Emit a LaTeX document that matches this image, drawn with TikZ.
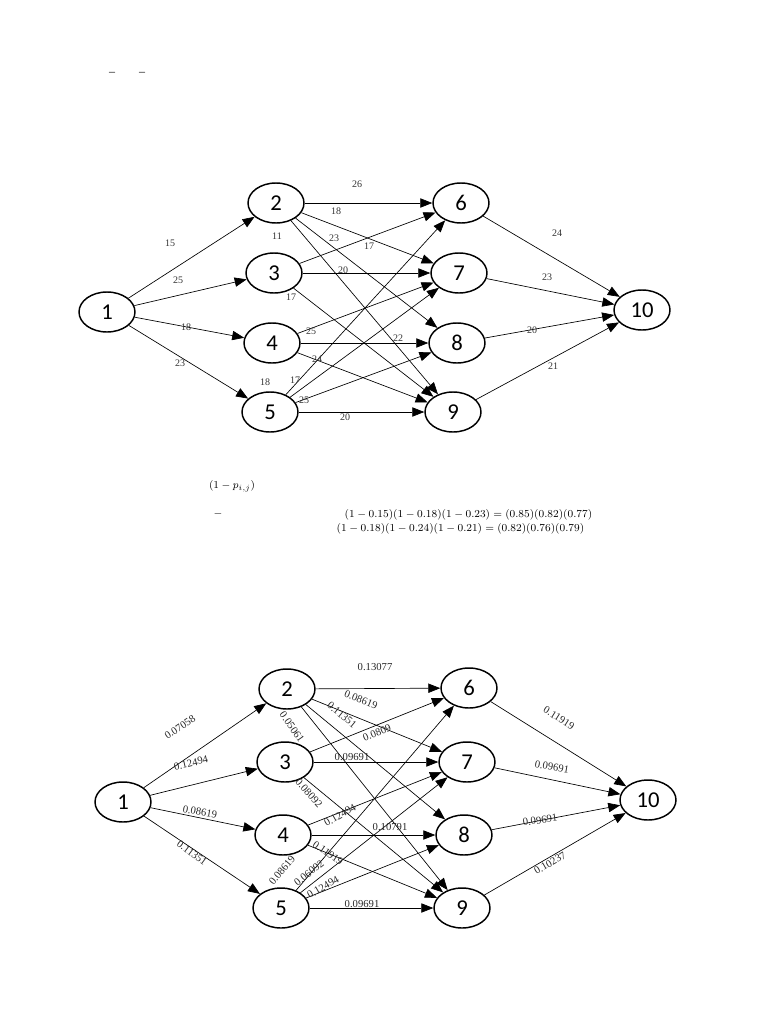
\documentclass[tikz,border=0pt]{standalone}
\usepackage{fontspec}
\setmainfont{Liberation Serif}
\newfontfamily\nodefont{Carlito}
\usetikzlibrary{arrows.meta,shapes.geometric}
\begin{document}
\begin{tikzpicture}[x=0.75pt,y=-0.75pt,
  v/.style={ellipse,draw,line width=1.1pt,minimum width=42pt,minimum height=30pt,inner sep=0pt,font=\nodefont\fontsize{17}{17}\selectfont},
  e/.style={draw,line width=0.5pt,-{Triangle[length=9pt,width=7pt]}},
  lt/.style={font=\fontsize{7.5}{8}\selectfont,inner sep=0pt,text=black!80},
  lb/.style={font=\fontsize{8}{9}\selectfont,inner sep=0pt,text=black!85}]
\useasboundingbox (0,0) rectangle (768,1024);
% top marks
\node[font=\small] (m1) at (112,74) {--};
\node[font=\small] (m2) at (142,74) {--};
% top graph
\node[v] (a1) at (107,312) {1};
\node[v] (a2) at (276,203) {2};
\node[v] (a3) at (274,273) {3};
\node[v] (a4) at (272,343) {4};
\node[v] (a5) at (270,412) {5};
\node[v] (a6) at (461,203) {6};
\node[v] (a7) at (459,273) {7};
\node[v] (a8) at (457,343) {8};
\node[v] (a9) at (453,412) {9};
\node[v] (a10) at (642,310) {10};
\foreach \s/\t in {1/2,1/3,1/4,1/5,2/6,2/7,2/8,2/9,3/6,3/7,3/9,4/7,4/8,4/9,5/6,5/7,5/8,5/9,6/10,7/10,8/10,9/10}
  \draw[e] (a\s) -- (a\t);
\foreach \x/\y/\l in {170/243/15,178/280/25,186/327/18,180/363/23,357/184/26,336/211/18,277/236/11,334/238/23,369/246/17,343/270/20,291/297/17,311/331/25,398/338/22,317/359/24,265/382/18,295/380/17,304/400/25,345/417/20,557/233/24,547/277/23,532/330/20,553/366/21}
  \node[lt] at (\x,\y) {\l};
% formulas
\node[font=\fontsize{8}{9}\selectfont] (f0) at (232,486) {$(1-p_{i,j})$};
\node[font=\fontsize{8}{9}\selectfont] (f1) at (218,514) {$-$};
\node[font=\fontsize{8.5}{9}\selectfont,anchor=west] (f2) at (340,515) {$(1-0.15)(1-0.18)(1-0.23)=(0.85)(0.82)(0.77)$};
\node[font=\fontsize{8.5}{9}\selectfont,anchor=west] (f3) at (332,529) {$(1-0.18)(1-0.24)(1-0.21)=(0.82)(0.76)(0.79)$};
% bottom graph
\node[v] (b1) at (123,802) {1};
\node[v] (b2) at (287,689) {2};
\node[v] (b3) at (285,762) {3};
\node[v] (b4) at (283,835) {4};
\node[v] (b5) at (281,908) {5};
\node[v] (b6) at (469,688) {6};
\node[v] (b7) at (467,762) {7};
\node[v] (b8) at (464,835) {8};
\node[v] (b9) at (462,908) {9};
\node[v] (b10) at (648,800) {10};
\foreach \s/\t in {1/2,1/3,1/4,1/5,2/6,2/7,2/8,2/9,3/6,3/7,3/9,4/7,4/8,4/9,5/6,5/7,5/8,5/9,6/10,7/10,8/10,9/10}
  \draw[e] (b\s) -- (b\t);
\foreach \x/\y/\r/\l in {180/727/34/0.07058,191/763/13/0.12494,200/812/-10/0.08619,192/853/-37/0.11351,375/667/0/0.13077,361/700/-22/0.08619,342/715/-39/0.11351,292/727/-55/0.05061,377/733/22/0.0809,352/757/0/0.09691,309/793/-48/0.08092,340/815/30/0.12494,390/827/0/0.10791,328/853/-35/0.11919,282/870/50/0.08619,309/873/39/0.06092,323/887/30/0.12494,362/904/0/0.09691,559/718/-32/0.11919,552/767/-10/0.09691,540/820/8/0.09691,550/863/30/0.10237}
  \node[lb,rotate=\r] at (\x,\y) {\l};
\end{tikzpicture}
\end{document}
